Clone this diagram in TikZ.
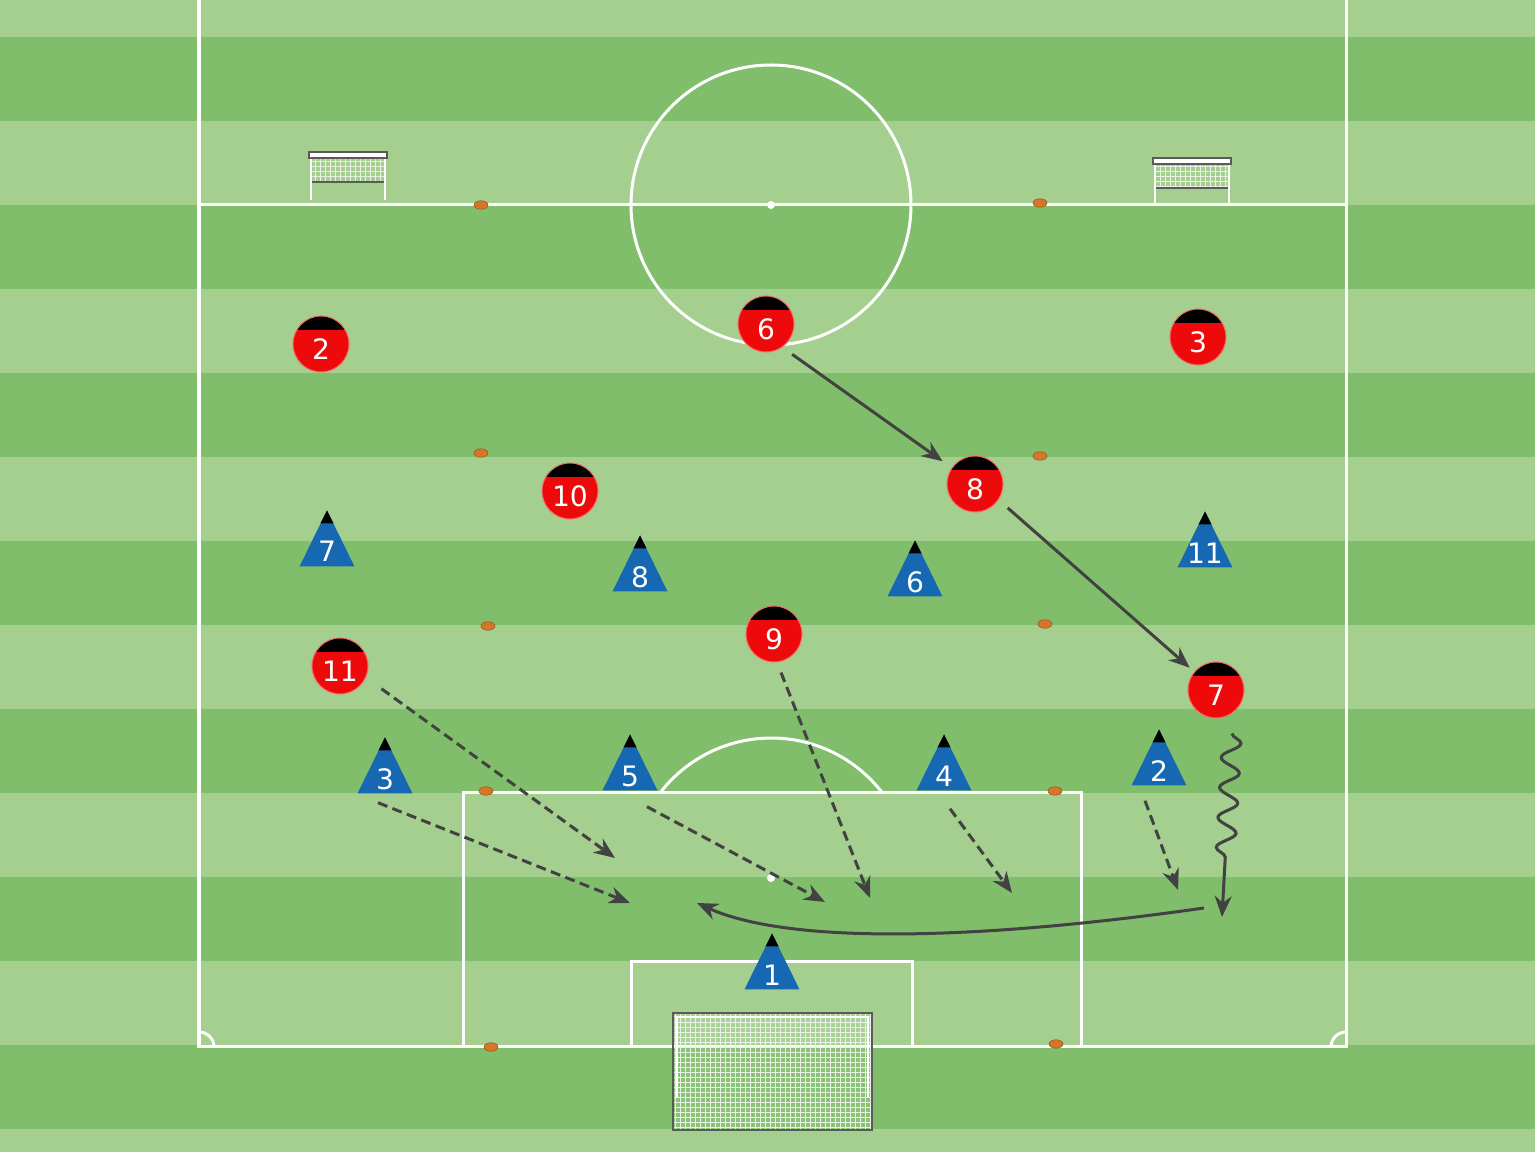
\documentclass[tikz,border=0pt]{standalone}
\usepackage{fontspec}
\setmainfont{DejaVu Sans}
\usetikzlibrary{arrows.meta}
\usetikzlibrary{shapes}
\usetikzlibrary{patterns.meta}
\usetikzlibrary{decorations.pathmorphing}
\definecolor{grassL}{RGB}{164,207,142}
\definecolor{grassD}{RGB}{129,190,108}
\definecolor{pred}{RGB}{238,10,10}
\definecolor{pblue}{RGB}{22,104,178}
\definecolor{movec}{RGB}{66,66,66}
\definecolor{conec}{RGB}{214,118,40}
\definecolor{goalc}{RGB}{90,90,90}

\begin{document}
\begin{tikzpicture}[x=0.01cm, y=-0.01cm, >={Stealth[length=0.21cm,width=0.17cm]},
line/.style={white, line width=0.03cm},
move/.style={movec, line width=0.03cm, ->},
run/.style={move, dash pattern=on 0.1cm off 0.055cm},
dribble/.style={move, decorate, decoration={snake, amplitude=0.095cm, segment length=0.3cm, post length=0.45cm}},
redp/.style={circle, fill=pred, draw=pred!60!white, line width=0.01cm, minimum size=0.56cm, inner sep=0, text=white, font=\fontsize{8}{9}\selectfont, text height=0.3cm, text depth=0pt,
  path picture={\fill[black] (path picture bounding box.north west) rectangle ([yshift=-0.14cm]path picture bounding box.north east);}},
num/.style={inner sep=0, text=white, font=\fontsize{8}{9}\selectfont, text height=0.2cm, text depth=0pt},
cone/.style={ellipse, fill=conec, draw=conec!70!black, line width=0.005cm, minimum width=0.14cm, minimum height=0.085cm, inner sep=0},
net/.style={pattern={Hatch[angle=0, distance=0.05cm, line width=0.008cm]}, pattern color=white!75!grassL}]

\useasboundingbox (0,0) rectangle (1535,1152);

% grass
\fill[grassL] (0,0) rectangle (1535,1152);
\foreach \y in {37,205,...,1045}
  \fill[grassD] (0,\y) rectangle (1535,\y+84);

% pitch markings
\draw[line] (199,0) -- (199,1047) -- (1346,1047) -- (1346,0);
\draw[line] (199,205) -- (1346,205);
\draw[line] (771,205) circle[radius=140];
\draw[line] (463,1047) -- (463,793) -- (1081,793) -- (1081,1047);
\draw[line] (631,1047) -- (631,962) -- (912,962) -- (912,1047);
\draw[line] (660,793) arc[start angle=217.4, end angle=322.6, radius=140];
\draw[line] (214,1047) arc[start angle=0, end angle=-90, radius=15];
\draw[line] (1331,1047) arc[start angle=180, end angle=270, radius=15];
\fill[white] (771,205) circle[radius=4];
\fill[white] (771,878) circle[radius=4];

% small goals
\foreach \gx/\gy in {0/0, 844/6} {
  \fill[net] (311+\gx,158+\gy) rectangle (385+\gx,182+\gy);
  \draw[goalc, line width=0.012cm] (311+\gx,182+\gy) -- (385+\gx,182+\gy);
  \draw[goalc, double=white, double distance=0.012cm, line width=0.008cm] (311+\gx,158+\gy) -- (311+\gx,200+\gy) (385+\gx,158+\gy) -- (385+\gx,200+\gy);
  \draw[goalc, fill=white, line width=0.012cm] (309+\gx,152+\gy) rectangle (387+\gx,158+\gy);
}

% big goal
\fill[white, opacity=0.08] (673,1013) rectangle (872,1130);
\fill[net] (673,1013) rectangle (872,1130);
\draw[goalc, line width=0.015cm] (673,1013) rectangle (872,1130);
\draw[white, line width=0.02cm] (677,1097) -- (677,1017) -- (868,1017) -- (868,1097);

% cones
\foreach \x/\y [count=\i] in {481/205, 1040/203, 481/453, 1040/456, 488/626, 1045/624, 486/791, 1055/791, 491/1047, 1056/1044}
  \node[cone] (cone\i) at (\x,\y) {};

% red team
\node[redp] (r2) at (321,344) {2};
\node[redp] (r6) at (766,324) {6};
\node[redp] (r3) at (1198,337) {3};
\node[redp] (r10) at (570,491) {10};
\node[redp] (r8) at (975,484) {8};
\node[redp] (r9) at (774,634) {9};
\node[redp] (r11) at (340,666) {11};
\node[redp] (r7) at (1216,690) {7};

% blue team
\foreach \n/\x/\y in {7/327/552, 8/640/577, 6/915/582, 11/1205/553, 3/385/779, 5/630/776, 4/944/776, 2/1159/771, 1/772/975} {
  \fill[pblue] (\x-27.5,\y+14.5) -- (\x+27.5,\y+14.5) -- (\x,\y-41.5) -- cycle;
  \fill[black] (\x-6.5,\y-28.5) -- (\x+6.5,\y-28.5) -- (\x,\y-41.5) -- cycle;
  \node[num] (b\n) at (\x,\y) {\n};
}

% arrow ends
\coordinate (e11) at (615,858);
\coordinate (e3) at (630,903);
\coordinate (e5) at (825,902);
\coordinate (e9) at (870,898);
\coordinate (e4) at (1012,893);
\coordinate (e2) at (1178,890);
\coordinate (ew) at (1222,917);
\coordinate (cs) at (1204,908);
\coordinate (ce) at (697,903);

% passes
\draw[move, shorten <=0.12cm, shorten >=0.11cm] (r6.-55) -- (r8.145);
\draw[move, shorten <=0.12cm, shorten >=0.06cm] (r8.-34) -- (r7.140);

% runs
\draw[run, shorten <=0.19cm] (r11.-24) -- (e11);
\draw[run] ([xshift=-0.07cm,yshift=-0.13cm]b3.south) -- (e3);
\draw[run] ([xshift=0.17cm,yshift=-0.2cm]b5.south) -- (e5);
\draw[run, shorten <=0.11cm] (r9.-84) -- (e9);
\draw[run] ([xshift=0.06cm,yshift=-0.22cm]b4.south) -- (e4);
\draw[run] ([xshift=-0.14cm,yshift=-0.19cm]b2.south) -- (e2);

% dribble and cross
\draw[dribble] ([xshift=0.16cm,yshift=-0.15cm]r7.south) -- (ew);
\draw[move] (cs) .. controls (980,940) and (790,945) .. (ce);

\end{tikzpicture}
\end{document}
